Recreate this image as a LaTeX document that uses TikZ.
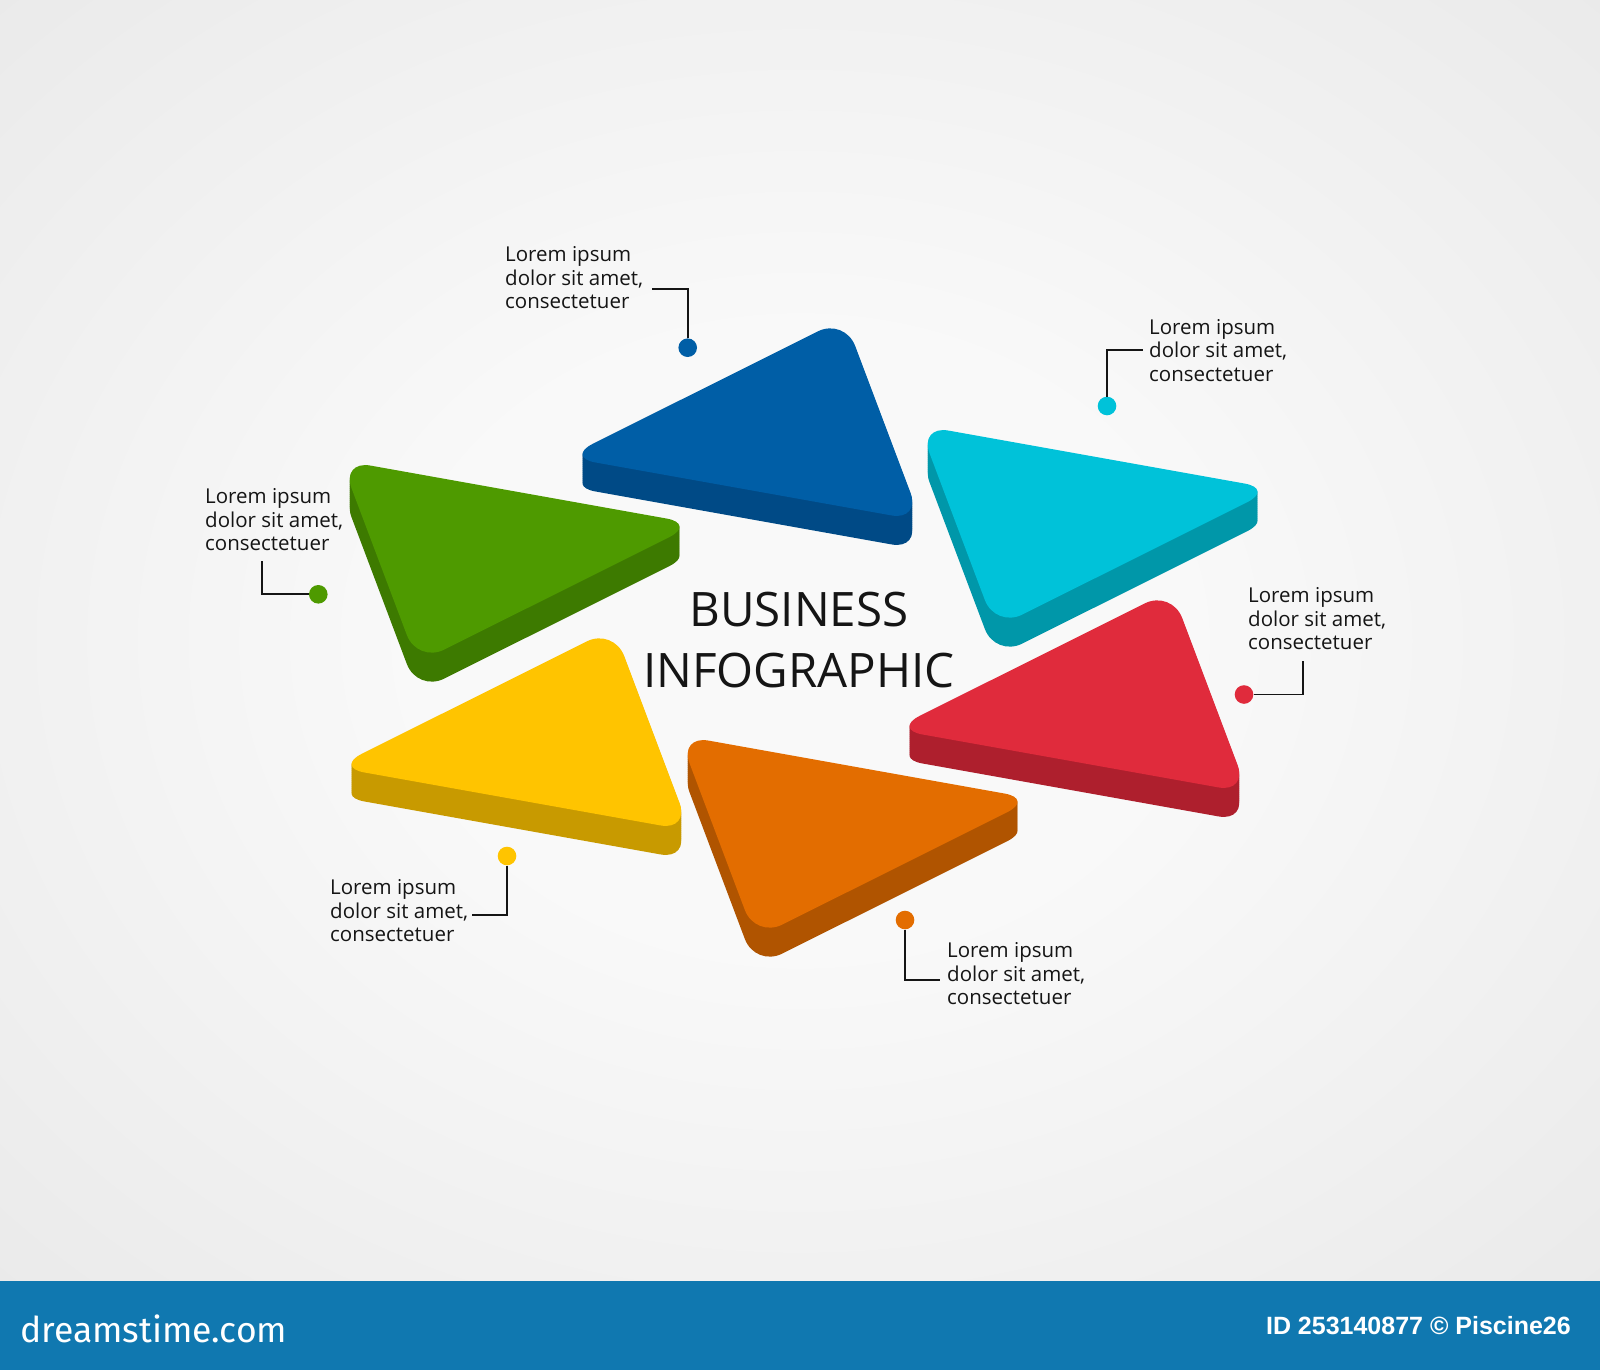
\documentclass[tikz,border=0pt]{standalone}
\usepackage{fontspec}
\setmainfont{Open Sans}
\newfontfamily\barfont{Fira Sans}
\newfontfamily\idfont{Liberation Sans}
\definecolor{bgin}{HTML}{F9F9F9}
\definecolor{bgout}{HTML}{E1E1E1}
\definecolor{barblue}{HTML}{1078B0}
\definecolor{bluetop}{HTML}{005EA6}
\definecolor{blueside}{HTML}{004A86}
\definecolor{greentop}{HTML}{4E9A00}
\definecolor{greenside}{HTML}{3D7A00}
\definecolor{cyantop}{HTML}{00C2D9}
\definecolor{cyanside}{HTML}{0097A9}
\definecolor{redtop}{HTML}{E02B3C}
\definecolor{redside}{HTML}{AE1F2D}
\definecolor{yellowtop}{HTML}{FFC400}
\definecolor{yellowside}{HTML}{C89A00}
\definecolor{orangetop}{HTML}{E36D00}
\definecolor{orangeside}{HTML}{B05400}
\definecolor{inktext}{HTML}{151515}
\pgfdeclareradialshading{bgshade}{\pgfpoint{0bp}{0bp}}{color(0bp)=(bgin); color(12bp)=(bgin); color(50bp)=(bgout)}
\newcommand\tritile[5]{%
  \foreach \k in {29,27,...,1}{%
    \fill[#5,rounded corners=30pt] ({#1-144*(#3)},{#2-88.7*(#3)+\k}) -- ({#1+211*(#3)},{#2-25.2*(#3)+\k}) -- ({#1-67.6*(#3)},{#2+114*(#3)+\k}) -- cycle;}
  \fill[#4,rounded corners=30pt] ({#1-144*(#3)},{#2-88.7*(#3)}) -- ({#1+211*(#3)},{#2-25.2*(#3)}) -- ({#1-67.6*(#3)},{#2+114*(#3)}) -- cycle;
}
\newcommand\lbltext{\rule{0pt}{20pt}Lorem ipsum\\dolor sit amet,\\consectetuer}
\begin{document}
\begin{tikzpicture}[x=1pt,y=-1pt,
  lbl/.style={anchor=north west,inner sep=0pt,align=left,text=inktext,font=\fontsize{20.5}{23.5}\selectfont},
  dot/.style={circle,inner sep=0pt,minimum size=18.6pt,fill=#1},
  conn/.style={draw=inktext,line width=1.7pt},
  ttl/.style={anchor=base,inner sep=0pt,text=inktext,font=\fontsize{47.5}{54}\selectfont}]
\useasboundingbox (0,0) rectangle (1600,1370);
\shade[shading=bgshade] (0,0) rectangle (1600,1281);
\fill[barblue] (0,1281) rectangle (1600,1370);
% triangles
\tritile{777}{432}{-1}{bluetop}{blueside}
\tritile{1063}{514}{1}{cyantop}{cyanside}
\tritile{485}{549}{1}{greentop}{greenside}
\tritile{1104}{704}{-1}{redtop}{redside}
\tritile{546}{742}{-1}{yellowtop}{yellowside}
\tritile{823}{824}{1}{orangetop}{orangeside}
% title
\node[ttl] (t1) at (799,626) {BUSINESS};
\node[ttl] (t2) at (799,687) {INFOGRAPHIC};
% labels
\node[lbl] (l1) at (505,241.7) {\lbltext};
\node[lbl] (l2) at (1149,314) {\lbltext};
\node[lbl] (l3) at (205,483.5) {\lbltext};
\node[lbl] (l4) at (1248,582.5) {\lbltext};
\node[lbl] (l5) at (330,874.5) {\lbltext};
\node[lbl] (l6) at (947,937.5) {\lbltext};
% dots
\node[dot=bluetop] (d1) at (687.7,347.7) {};
\node[dot=cyantop] (d2) at (1107,406) {};
\node[dot=greentop] (d3) at (318.3,594.3) {};
\node[dot=redtop] (d4) at (1244,694.5) {};
\node[dot=yellowtop] (d5) at (507,856) {};
\node[dot=orangetop] (d6) at (905,920) {};
\coordinate (e1) at (651.7,289.3);
\coordinate (e2) at (1143,350);
\coordinate (e3) at (261.7,561);
\coordinate (e4) at (1303,661);
\coordinate (e5) at (472,915);
\coordinate (e6) at (940,980);
\draw[conn] (d1) |- (e1);
\draw[conn] (d2) |- (e2);
\draw[conn] (d3) -| (e3);
\draw[conn] (d4) -| (e4);
\draw[conn] (d5) |- (e5);
\draw[conn] (d6) |- (e6);
% bottom bar
\node[anchor=base west,inner sep=0pt,text=white,font=\barfont\fontsize{35.5}{40}\selectfont] (logo) at (20,1342) {dreamstime.com};
\node[anchor=base east,inner sep=0pt,text=white,font=\idfont\bfseries\fontsize{25}{28}\selectfont] (idtxt) at (1571,1334) {ID 253140877 © Piscine26};
\end{tikzpicture}
\end{document}
